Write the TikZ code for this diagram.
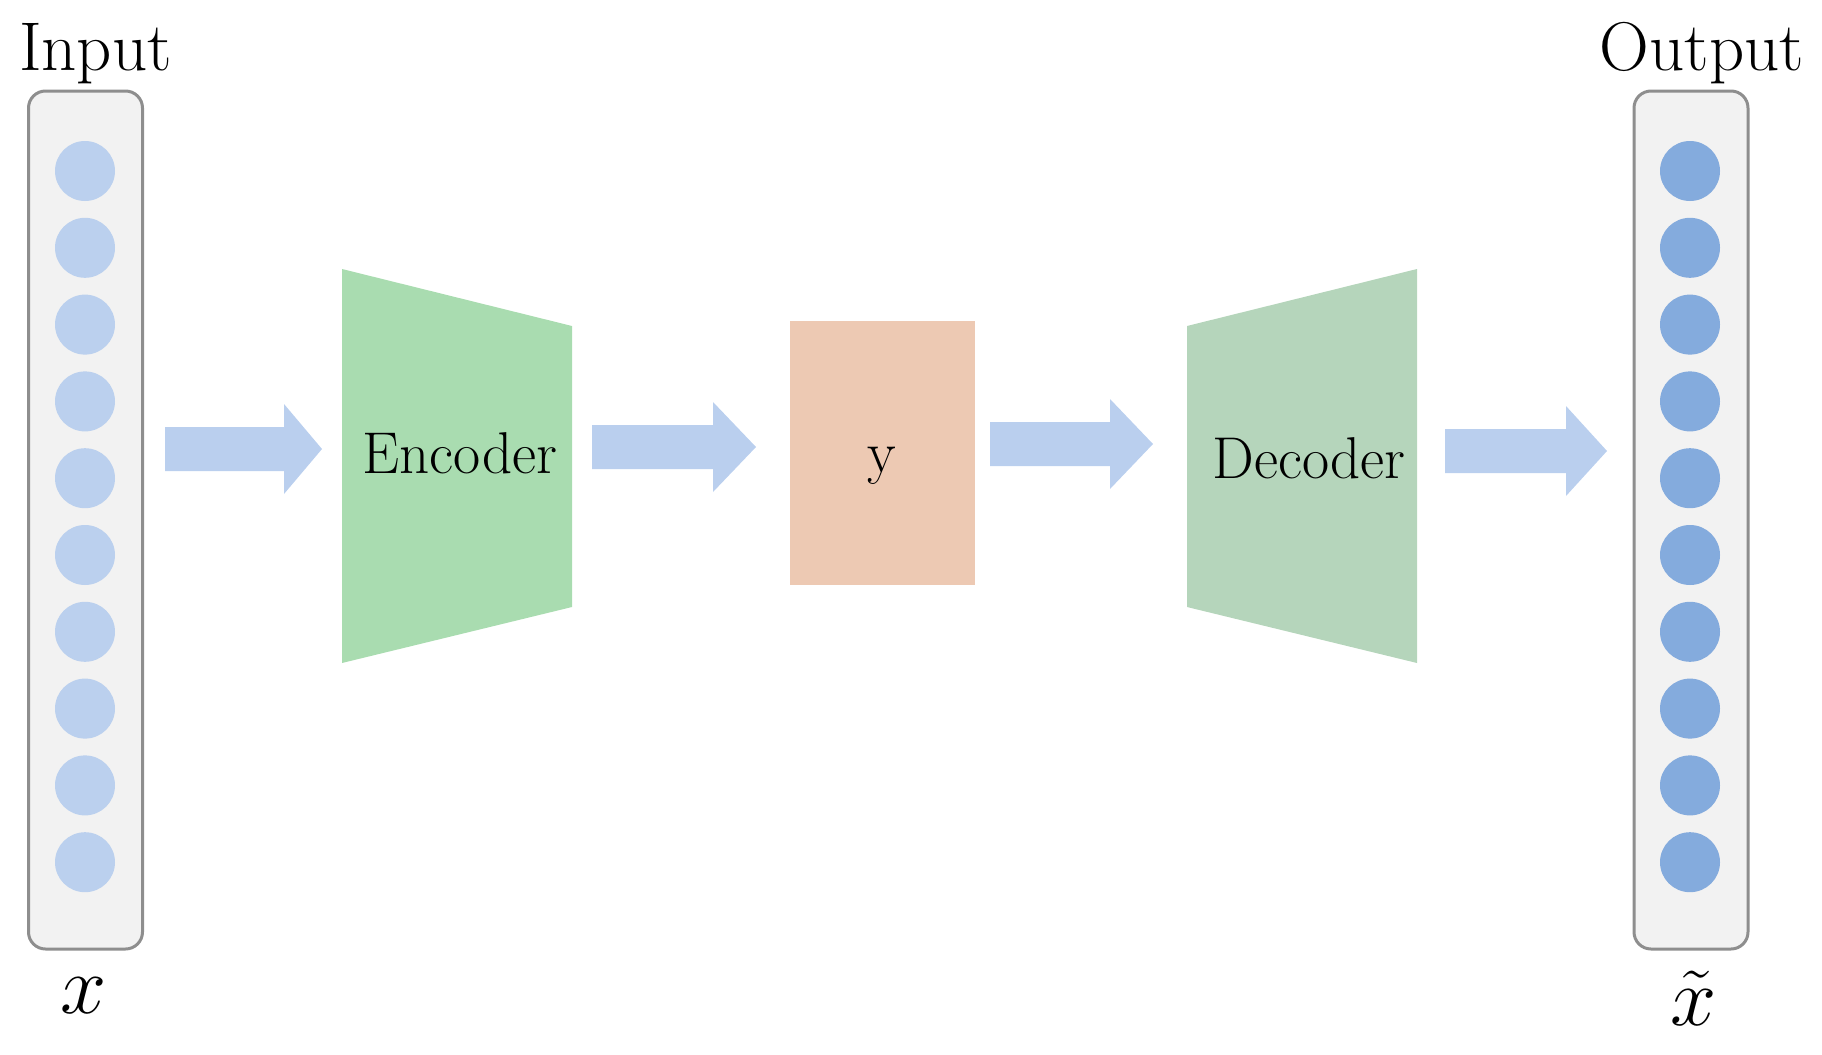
\documentclass[tikz,border=0pt]{standalone}
\definecolor{boxfill}{HTML}{F2F2F2}
\definecolor{boxline}{HTML}{8E8E8E}
\definecolor{incirc}{HTML}{BBD0EE}
\definecolor{outcirc}{HTML}{84ABDD}
\definecolor{arrowblue}{HTML}{BACFEE}
\definecolor{encgreen}{HTML}{A9DCB0}
\definecolor{decgreen}{HTML}{B5D5BB}
\definecolor{ybox}{HTML}{EDC9B3}
\begin{document}
\begin{tikzpicture}[x=0.5pt,y=-0.5pt,
  colbox/.style={draw=boxline,fill=boxfill,line width=1.5pt,rounded corners=8.5pt,
    minimum width=57pt,minimum height=429pt,inner sep=0pt},
  incircle/.style={circle,fill=incirc,minimum size=30pt,inner sep=0pt},
  outcircle/.style={circle,fill=outcirc,minimum size=30pt,inner sep=0pt},
  biglabel/.style={anchor=base,inner sep=0pt,font=\fontsize{34.5}{36}\selectfont},
  boxlabel/.style={anchor=base,inner sep=0pt,font=\fontsize{29.5}{31}\selectfont},
  mathlabel/.style={anchor=base,inner sep=0pt,scale=2,font=\fontsize{20}{22}\selectfont},
  blockarrow/.style={fill=arrowblue}]
\useasboundingbox (0,0) rectangle (1822,1055);

% columns
\node[colbox] (incol) at (85.5,520) {};
\node[colbox] (outcol) at (1691,520) {};
\foreach \i in {0,...,9} {
  \node[incircle] (in\i) at (85,{171+76.8*\i}) {};
  \node[outcircle] (out\i) at (1690,{171+76.8*\i}) {};
}
\node[biglabel] (inlab) at (95.5,70) {Input};
\node[biglabel] (outlab) at (1702,70) {Output};
\node[mathlabel] (xlab) at (84,1013) {$x$};
\node[mathlabel] (xtlab) at (1694,1025) {$\tilde{x}$};

% encoder / code / decoder
\fill[encgreen] (342,269) -- (572,326) -- (572,607) -- (342,663) -- cycle;
\node[boxlabel] (enc) at (460,473) {Encoder};
\fill[ybox] (790,321) rectangle (975,585);
\node[boxlabel] (code) at (882,472) {y};
\fill[decgreen] (1187,326) -- (1417,269) -- (1417,663) -- (1187,607) -- cycle;
\node[boxlabel] (dec) at (1309,478) {Decoder};

% block arrows
\newcommand\blockarr[4]{%
  \fill[blockarrow] (#1,#4-22) -- (#2,#4-22) -- (#2,#4-45) -- (#3,#4)
    -- (#2,#4+45) -- (#2,#4+22) -- (#1,#4+22) -- cycle;}
\blockarr{165}{284}{322}{449}
\blockarr{592}{713}{756}{447}
\blockarr{990}{1110}{1153}{444}
\blockarr{1445}{1566}{1607}{451}
\end{tikzpicture}
\end{document}
